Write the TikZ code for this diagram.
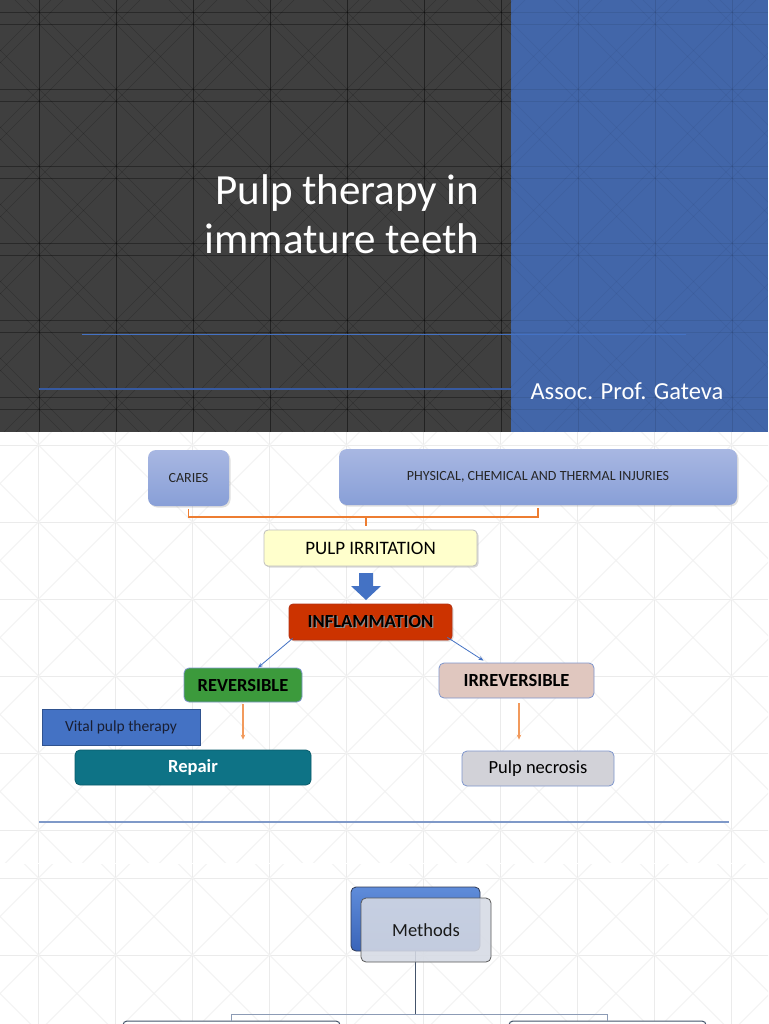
\documentclass[tikz,border=0pt]{standalone}
\usepackage{fontspec}
\setmainfont{Carlito}
\usetikzlibrary{shadows,arrows.meta,calc}
\definecolor{slidedark}{HTML}{3F3F3F}
\definecolor{slideblue}{HTML}{4266A9}
\definecolor{accblue}{HTML}{4472C4}
\definecolor{darkline}{HTML}{375AA0}
\definecolor{orng}{HTML}{ED7D31}
\definecolor{lorng}{HTML}{F29A5C}
\definecolor{cbtop}{HTML}{A8B7E2}
\definecolor{cbbot}{HTML}{889FD7}
\definecolor{pulpy}{HTML}{FFFFCC}
\definecolor{inflr}{HTML}{CC3300}
\definecolor{inflb}{HTML}{B43214}
\definecolor{revg}{HTML}{3C9A3C}
\definecolor{irrp}{HTML}{E0C7BF}
\definecolor{bordb}{HTML}{7F96CC}
\definecolor{tealc}{HTML}{0E7386}
\definecolor{tealb}{HTML}{0B5C6B}
\definecolor{necg}{HTML}{D2D2D8}
\definecolor{sepl}{HTML}{7F99C8}
\definecolor{gridl}{HTML}{EBEBEB}
\definecolor{gridd}{HTML}{F2F2F2}
\definecolor{methf}{HTML}{D6DAE4}
\definecolor{mtop}{HTML}{5F8CDA}
\definecolor{mbot}{HTML}{3A64B9}
\definecolor{mbord}{HTML}{323C55}
\definecolor{conn}{HTML}{44546A}
\definecolor{connl}{HTML}{8C9BB5}
\definecolor{vitalb}{HTML}{2F528F}
\definecolor{vitalt}{HTML}{191E32}
\newcommand{\shtext}[1]{\makebox[0pt][l]{\raisebox{-1.2pt}{\hspace{1.2pt}\textcolor{black!45}{#1}}}#1}
\tikzset{
  fsz/.style={font=\fontsize{#1}{#1}\selectfont},
  fszb/.style={font=\fontsize{#1}{#1}\selectfont\bfseries},
  causebox/.style={rounded corners=8pt, top color=cbtop, bottom color=cbbot, draw=none,
    drop shadow={opacity=.25,shadow xshift=1.5pt,shadow yshift=-1.5pt},
    fsz=14, text=black!85, inner sep=0pt},
  flowbox/.style={rounded corners=5pt, inner sep=0pt, line width=0.8pt},
  bluearr/.style={accblue, line width=0.8pt, -{Stealth[length=5pt,width=4pt]}},
  orarr/.style={lorng, line width=1.1pt, -{Stealth[length=5pt,width=4.5pt]}},
  orline/.style={orng, line width=1.1pt},
}
\begin{document}
\begin{tikzpicture}[x=1pt,y=-1pt]
\useasboundingbox (0,0) rectangle (768,1024);
\clip (0,0) rectangle (768,1024);
% ---------- slide 1 ----------
\fill[slidedark] (0,0) rectangle (511,432);
\fill[slideblue] (511,0) rectangle (768,432);
\begin{scope}
  \clip (0,0) rectangle (511,432);
  \foreach \k in {0,...,9} {\draw[black,opacity=.45,line width=.6] ({39+77*\k},0) -- ++(0,432);}
  \foreach \k in {0,...,5} {\draw[black,opacity=.35,line width=.6] (0,{12+77*\k}) -- ++(800,0) (0,{24+77*\k}) -- ++(800,0);}
  \foreach \k in {-12,...,7} {\foreach \d in {-6,6} {\draw[black,opacity=.18,line width=.5] (-50,{-21+77*\k+\d-50}) -- (850,{-21+77*\k+\d+850});}}
  \foreach \k in {-1,...,16} {\foreach \d in {-6,6} {\draw[black,opacity=.18,line width=.5] (-50,{57+77*\k+\d+50}) -- (850,{57+77*\k+\d-850});}}
\end{scope}
\begin{scope}
  \clip (511,0) rectangle (768,432);
  \foreach \k in {0,...,9} {\draw[black,opacity=.1,line width=.6] ({39+77*\k},0) -- ++(0,432);}
  \foreach \k in {0,...,5} {\draw[black,opacity=.08,line width=.6] (0,{12+77*\k}) -- ++(800,0) (0,{24+77*\k}) -- ++(800,0);}
  \foreach \k in {-12,...,7} {\foreach \d in {-6,6} {\draw[black,opacity=.05,line width=.5] (-50,{-21+77*\k+\d-50}) -- (850,{-21+77*\k+\d+850});}}
  \foreach \k in {-1,...,16} {\foreach \d in {-6,6} {\draw[black,opacity=.05,line width=.5] (-50,{57+77*\k+\d+50}) -- (850,{57+77*\k+\d-850});}}
\end{scope}
\draw[accblue,line width=1pt] (82,334) -- (686,334);
\draw[darkline,line width=1.6pt] (39,389) -- (511,389);
\node[anchor=base east, text=white, fsz=43] (title1) at (483,205) {Pulp therapy in};
\node[anchor=base east, text=white, fsz=43] (title2) at (483,253) {immature teeth};
\node[anchor=base west, text=white, fsz=24.5] (author) at (527,399) {Assoc. Prof. Gateva};
% ---------- slide 2 ----------
\fill[white] (0,432) rectangle (768,1024);
\begin{scope}
  \clip (0,432) rectangle (768,862);
  \foreach \k in {0,...,9} {\draw[gridl,line width=.8] ({38.5+77*\k},432) -- ++(0,432);}
  \foreach \k in {0,...,5} {\draw[gridl,line width=.8] (0,{445+77*\k}) -- ++(800,0);}
  \foreach \k in {-11,...,6} {\draw[gridd,line width=.8] (-50,{406.5+77*\k-50}) -- (850,{406.5+77*\k+850});}
  \foreach \k in {-1,...,15} {\draw[gridd,line width=.8] (-50,{483.5+77*\k+50}) -- (850,{483.5+77*\k-850});}
\end{scope}
% ---------- slide 3 ----------
\begin{scope}
  \clip (0,864) rectangle (768,1024);
  \foreach \k in {0,...,9} {\draw[gridl,line width=.8] ({38.5+77*\k},864) -- ++(0,200);}
  \foreach \k in {0,...,2} {\draw[gridl,line width=.8] (0,{878+77*\k}) -- ++(800,0);}
  \foreach \k in {-11,...,3} {\draw[gridd,line width=.8] (-50,{839.5+77*\k-50}) -- (850,{839.5+77*\k+850});}
  \foreach \k in {-1,...,13} {\draw[gridd,line width=.8] (-50,{916.5+77*\k+50}) -- (850,{916.5+77*\k-850});}
\end{scope}
% ---------- flow chart ----------
\node[causebox, minimum width=81pt, minimum height=56pt] (car) at (188.5,478) {CARIES};
\node[causebox, minimum width=398pt, minimum height=56pt] (phys) at (538,477) {PHYSICAL, CHEMICAL AND THERMAL INJURIES};
\node[flowbox, rounded corners=4pt, fill=pulpy, draw=black!25, minimum width=213pt, minimum height=36pt, fsz=19,
  drop shadow={opacity=.3,shadow xshift=1.5pt,shadow yshift=-1.5pt}] (pulp) at (370.5,548) {PULP IRRITATION};
\coordinate (j1) at (366,517);
\draw[orline] ([yshift=-3pt]car.south) -- (car.south |- j1) -| ([yshift=-3pt]phys.south);
\draw[orline] (j1) -- ([yshift=4pt]j1 |- pulp.north);
\node[flowbox, rounded corners=4pt, fill=inflr, draw=inflb, minimum width=163pt, minimum height=36pt,
  fszb=18.5, drop shadow={opacity=.25,shadow xshift=1.5pt,shadow yshift=-1.5pt}] (infl) at (370.5,622) {\shtext{INFLAMMATION}};
\fill[accblue] (359,573) -- (373,573) -- (373,586) -- (381,586) -- (366,600) -- (351,586) -- (359,586) -- cycle;
\node[flowbox, fill=revg, draw=bordb, minimum width=118pt, minimum height=34pt, fszb=18.5] (rev) at (243,685) {REVERSIBLE};
\node[flowbox, fill=irrp, draw=bordb, minimum width=155pt, minimum height=35pt, fszb=18.5] (irr) at (516.5,680.5) {IRREVERSIBLE};
\draw[bluearr] ([xshift=4pt,yshift=2pt]infl.south west) -- ([xshift=15pt]rev.north);
\draw[bluearr] ([xshift=-5pt,yshift=3pt]infl.south east) -- ([xshift=-33pt,yshift=2pt]irr.north);
\node[fill=accblue, draw=vitalb, line width=0.8pt, minimum width=158pt, minimum height=36pt, inner sep=0pt,
  fsz=15.5, text=vitalt] (vital) at (121,727) {Vital pulp therapy};
\node[flowbox, fill=tealc, draw=tealb, minimum width=236pt, minimum height=35pt, fszb=18.5, text=white] (rep) at (193,767.5) {Repair};
\node[flowbox, fill=necg, draw=bordb, minimum width=152pt, minimum height=35pt, fsz=18.5] (nec) at (538,768.5) {Pulp necrosis};
\draw[orarr, shorten <=2pt, shorten >=10pt] (rev.south) -- (rev.south |- rep.north);
\draw[orarr, shorten <=5pt, shorten >=11pt] ([xshift=2.5pt]irr.south) -- ([xshift=2.5pt]irr.south |- nec.north);
\draw[sepl, line width=2pt] (39,822) -- (729,822);
% ---------- methods ----------
\node[rounded corners=5pt, top color=mtop, bottom color=mbot, draw=mbord, line width=0.8pt,
  minimum width=129pt, minimum height=64pt] (mback) at (415.5,919) {};
\coordinate (j2) at (415.5,1014);
\draw[conn, line width=1.2pt] (mback.south) -- (j2);
\node[rounded corners=5pt, fill=methf, fill opacity=.88, draw=black!65, line width=0.8pt, minimum width=130pt, minimum height=64pt,
  text opacity=1, fsz=18.5, text=black!90] (meth) at (426,930) {Methods};
\node[rounded corners=4pt, fill=white, draw=conn, line width=1pt, minimum width=217pt, minimum height=48pt] (lb) at (231.5,1045) {};
\node[rounded corners=4pt, fill=white, draw=conn, line width=1pt, minimum width=197pt, minimum height=48pt] (rb) at (607.5,1045) {};
\draw[connl, line width=1pt] (lb.north |- j2) -- (rb.north |- j2);
\draw[connl, line width=1pt] (lb.north |- j2) -- (lb.north);
\draw[connl, line width=1pt] (rb.north |- j2) -- (rb.north);
\end{tikzpicture}
\end{document}
